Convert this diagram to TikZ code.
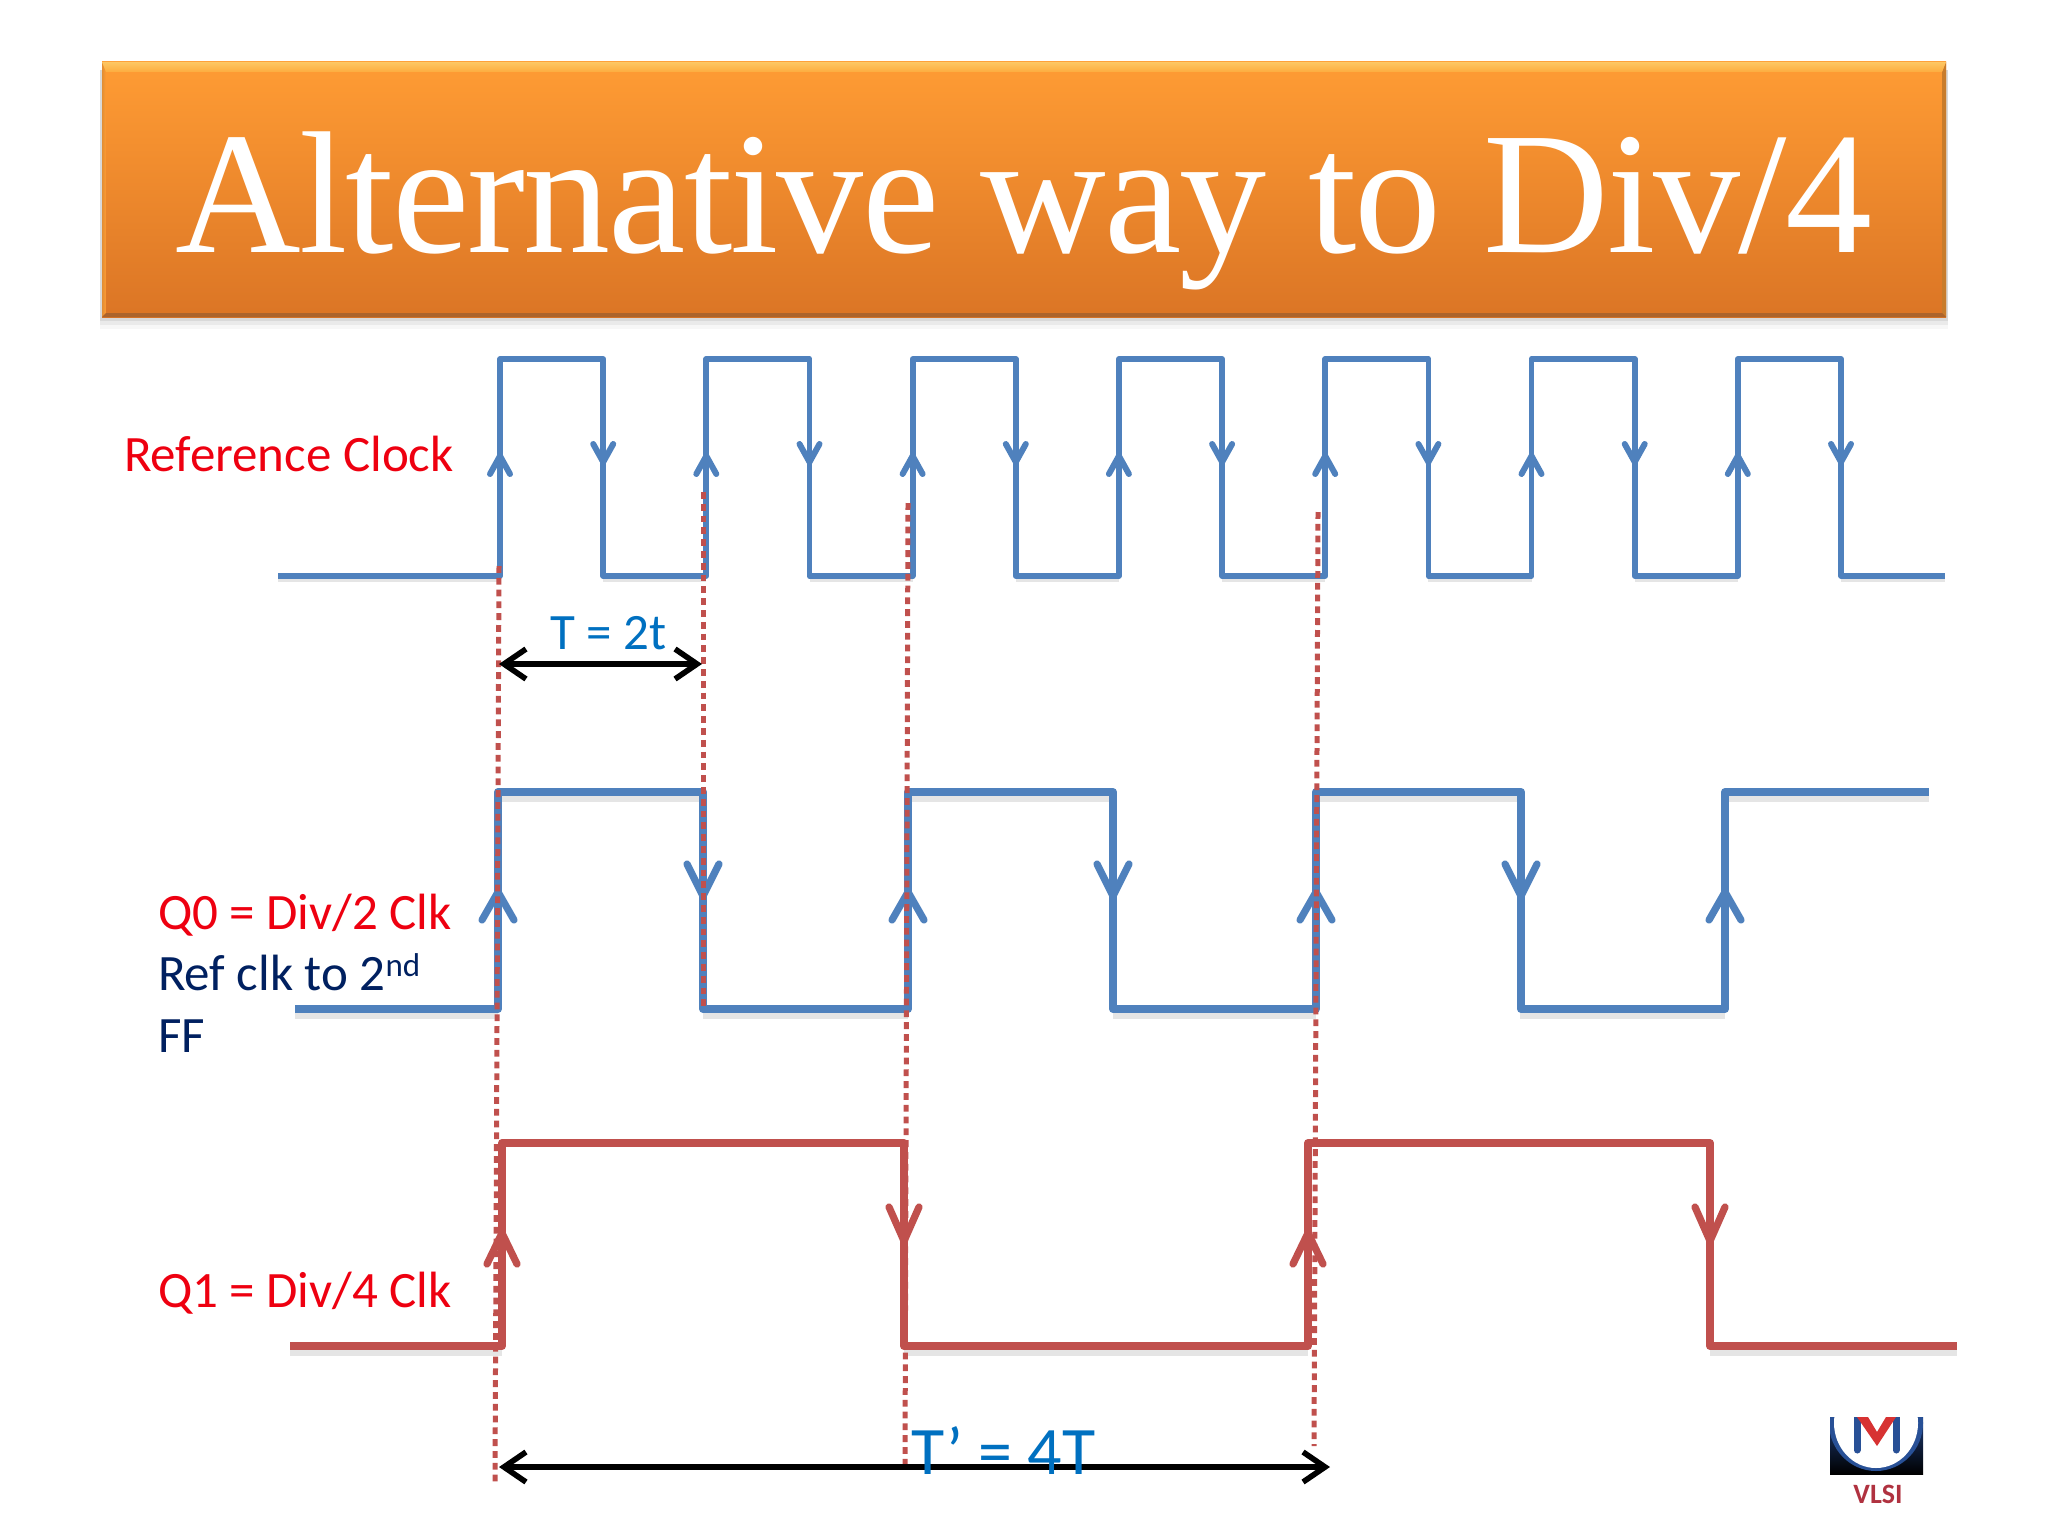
\documentclass[tikz,border=0pt]{standalone}
\usepackage{fontspec}
\setmainfont{Carlito}
\newfontfamily\titlefont[LetterSpace=-1.1]{Liberation Serif}
\usetikzlibrary{arrows.meta}
\definecolor{wblue}{HTML}{4F81BD}
\definecolor{wred}{HTML}{C0504D}
\definecolor{lblred}{HTML}{EE0010}
\definecolor{lblblue}{HTML}{0070C0}
\definecolor{lblnavy}{HTML}{002060}
\definecolor{bantop}{RGB}{255,156,52}
\definecolor{banmid}{RGB}{248,142,46}
\definecolor{banbot}{RGB}{219,117,37}
\definecolor{banleft}{RGB}{226,142,52}
\definecolor{banright}{RGB}{200,124,44}
\definecolor{banhi}{RGB}{253,199,100}
\definecolor{banhib}{RGB}{253,172,62}
\definecolor{banlow}{RGB}{172,100,44}
\definecolor{logotop}{RGB}{30,60,120}
\definecolor{logomid}{RGB}{10,25,60}
\definecolor{logoring}{RGB}{40,80,150}
\definecolor{logored}{RGB}{215,50,50}
\definecolor{logotext}{RGB}{176,50,64}
\tikzset{
  lbl/.style={anchor=base west,inner sep=0pt,outer sep=0pt,font=\fontsize{25.5}{30}\selectfont},
  wavethin/.style={draw=wblue,line width=2.9pt,line join=round},
  wavethick/.style={line width=4pt,line join=round},
  wshadow/.style={draw=black,opacity=0.10,line width=3.5pt},
  marker/.style={fill=none,line cap=round,line join=miter},
  dotline/.style={draw=wred,line width=2.5pt,dash pattern=on 3.4pt off 2.5pt},
  span/.style={draw=black,line width=2.8pt,{Straight Barb[length=11pt,width=15pt,line width=2.8pt]}-{Straight Barb[length=11pt,width=15pt,line width=2.8pt]}},
}
\newcommand{\edgemark}[6]{\draw[marker,draw=#1,line width=#6] (#2-#5,#4) -- (#2,#3) -- (#2+#5,#4);}
\begin{document}
\begin{tikzpicture}[x=0.5pt,y=-0.5pt]
\useasboundingbox (0,0) rectangle (2048,1536);
% banner shadow
\foreach \o/\a in {12/0.03,8/0.05,4/0.07}{\fill[black,opacity=\a] (100,70) rectangle (1948,317+\o);}
\shade[top color=bantop,middle color=banmid,bottom color=banbot] (102,62) rectangle (1946,317);
\shade[left color=banleft,right color=bantop] (102,62) -- (106,72) -- (106,313) -- (102,317) -- cycle;
\fill[banright] (1946,62) -- (1942,72) -- (1942,313) -- (1946,317) -- cycle;
\shade[top color=banhi,bottom color=banhib] (102,62) -- (1946,62) -- (1942,72) -- (106,72) -- cycle;
\fill[banlow] (102,317) -- (1946,317) -- (1942,313) -- (106,313) -- cycle;
\node[anchor=base west,inner sep=0pt,text=white,font=\titlefont\fontsize{87}{100}\selectfont] (title) at (175,252) {Alternative way to Div/4};
% soft shadows under the waves
\draw[wshadow,line width=2pt] (278,580) -- (500,580) (603,580) -- (706,580) (810,580) -- (913,580) (1016,580) -- (1119,580) (1222,580) -- (1325,580) (1428,580) -- (1532,580) (1635,580) -- (1738,580) (1841,580) -- (1945,580);
\draw[wshadow] (295,1015) -- (498,1015) (703,1015) -- (908,1015) (1113,1015) -- (1316,1015) (1520,1015) -- (1725,1015) (908,798) -- (1113,798) (1316,798) -- (1520,798) (498,798) -- (703,798) (1725,798) -- (1929,798);
\draw[wshadow] (290,1352) -- (502,1352) (904,1352) -- (1308,1352) (1710,1352) -- (1957,1352);
% reference clock
\draw[wavethin] (278,576) -- (500,576) -- (500,359) -- (603.2,359) -- (603.2,576) -- (706.3,576) -- (706.3,359) -- (809.5,359) -- (809.5,576) -- (912.6,576) -- (912.6,359) -- (1015.8,359) -- (1015.8,576) -- (1118.9,576) -- (1118.9,359) -- (1222.1,359) -- (1222.1,576) -- (1325.2,576) -- (1325.2,359) -- (1428.4,359) -- (1428.4,576) -- (1531.5,576) -- (1531.5,359) -- (1634.7,359) -- (1634.7,576) -- (1737.8,576) -- (1737.8,359) -- (1841,359) -- (1841,576) -- (1945,576);
\foreach \r in {500,706.3,912.6,1118.9,1325.2,1531.5,1737.8}{\edgemark{wblue}{\r}{456}{474}{10}{3pt}}
\foreach \f in {603.2,809.5,1015.8,1222.1,1428.4,1634.7,1841}{\edgemark{wblue}{\f}{462}{444}{10}{3pt}}
% Q0
\draw[wavethick,draw=wblue] (295,1009) -- (498,1009) -- (498,792) -- (703,792) -- (703,1009) -- (908,1009) -- (908,792) -- (1113,792) -- (1113,1009) -- (1316,1009) -- (1316,792) -- (1521,792) -- (1521,1009) -- (1725,1009) -- (1725,792) -- (1929,792);
\foreach \r in {498,908,1316,1725}{\edgemark{wblue}{\r}{892}{920}{16}{3.6pt}}
\foreach \f in {703,1113,1521}{\edgemark{wblue}{\f}{896}{864}{16}{3.6pt}}
% Q1
\draw[wavethick,draw=wred] (290,1346) -- (502,1346) -- (502,1143) -- (904,1143) -- (904,1346) -- (1308,1346) -- (1308,1143) -- (1710,1143) -- (1710,1346) -- (1957,1346);
\foreach \r in {502,1308}{\edgemark{wred}{\r}{1233}{1264}{15}{3.6pt}}
\foreach \f in {904,1710}{\edgemark{wred}{\f}{1241}{1207}{15}{3.6pt}}
% dotted guides
\draw[dotline] (499,566) -- (495,1483);
\draw[dotline] (703,492) -- (703,1009);
\draw[dotline] (908,503) -- (905,1466);
\draw[dotline] (1318,512) -- (1314,1446);
% spans
\coordinate (ta) at (499,664); \coordinate (tb) at (702,664);
\coordinate (ua) at (499,1467); \coordinate (ub) at (1330,1467);
\draw[span] (ta) -- (tb);
\draw[span] (ua) -- (ub);
% labels
\node[lbl,text=lblred] (refclk) at (124,471) {Reference Clock};
\node[lbl,text=lblblue] (tlabel) at (550,649) {T = 2t};
\node[lbl,text=lblred] (qzero) at (158,929) {Q0 = Div/2 Clk};
\node[lbl,text=lblnavy] (refto) at (158,990) {Ref clk to 2\raisebox{7pt}{\fontsize{16.5}{18}\selectfont nd}};
\node[lbl,text=lblnavy] (ff) at (158,1052) {FF};
\node[lbl,text=lblred] (qone) at (158,1307) {Q1 = Div/4 Clk};
\node[anchor=base west,inner sep=0pt,text=lblblue,font=\fontsize{34}{40}\selectfont] (tprime) at (911,1474) {T’ = 4T};
% logo
\begin{scope}
\clip (1830,1417) rectangle (1923,1474);
\shade[top color=logotop,middle color=logomid,bottom color=black] (1830,1417) rectangle (1923,1474);
\fill[logoring] (1876,1423) ellipse[x radius=47,y radius=48];
\fill[white] (1876,1423) ellipse[x radius=42,y radius=45];
\draw[logoring,line width=3.5pt,line cap=round] (1857,1415) -- (1857,1450) (1896,1415) -- (1896,1450);
\fill[logored] (1857,1417) -- (1868,1417) -- (1877,1432) -- (1886,1417) -- (1896,1417) -- (1877,1446) -- cycle;
\end{scope}
\node[anchor=base,inner sep=0pt,text=logotext,font=\bfseries\fontsize{14}{16}\selectfont] (vlsi) at (1878,1503) {VLSI};
\end{tikzpicture}
\end{document}
